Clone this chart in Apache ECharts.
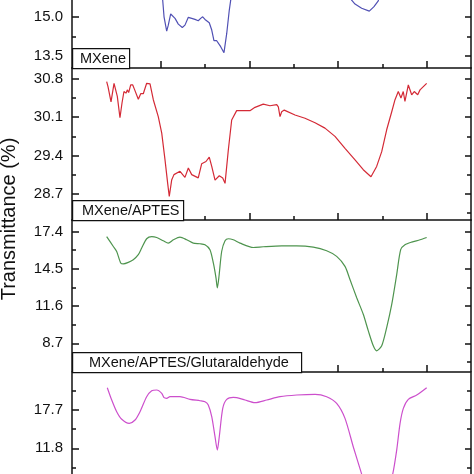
<!DOCTYPE html>
<html>
<head>
<meta charset="utf-8">
<script src="https://cdn.jsdelivr.net/npm/echarts@6/dist/echarts.min.js"></script>
<style>
  html, body { margin: 0; padding: 0; background: #fff; overflow: hidden; width: 474px; height: 474px; }
  /* the figure is taller than the window: the first and last panels are cut */
  #chart { position: absolute; left: 0; top: -84px; width: 474px; height: 620px; }
</style>
</head>
<body>
<div id="chart"></div>
<script>
// x is a position along the (unlabelled) wavenumber axis, 0..4500
const blueX = [400, 600, 800, 950, 1023, 1038, 1068, 1086, 1113, 1162, 1199, 1244, 1274, 1312, 1350, 1387, 1424, 1451, 1474, 1500, 1548, 1576, 1601, 1632, 1677, 1714, 1745, 1774, 1790, 1850, 2200, 2600, 3000, 3100, 3154, 3192, 3267, 3353, 3406, 3454, 3550, 3700, 4000];
const blueY = [18.0, 17.6, 17.8, 17.2, 15.65, 15.01, 14.46, 14.69, 15.12, 14.95, 14.73, 14.60, 14.69, 14.99, 14.95, 14.91, 14.86, 14.95, 15.01, 14.91, 14.78, 14.50, 14.09, 14.09, 13.86, 13.63, 14.37, 15.27, 15.65, 17.8, 18.2, 18.0, 17.0, 16.2, 15.65, 15.50, 15.34, 15.23, 15.40, 15.62, 17.0, 18.0, 18.4];

const redX = [391, 406, 440, 459, 474, 493, 511, 541, 564, 586, 609, 624, 639, 662, 685, 707, 748, 775, 804, 842, 880, 917, 973, 1012, 1049, 1079, 1097, 1124, 1150, 1218, 1274, 1312, 1350, 1424, 1463, 1511, 1548, 1576, 1613, 1661, 1700, 1726, 1763, 1801, 1857, 1932, 2007, 2064, 2157, 2233, 2309, 2327, 2346, 2365, 2394, 2515, 2628, 2741, 2853, 2966, 3079, 3192, 3285, 3372, 3436, 3493, 3549, 3606, 3643, 3680, 3710, 3736, 3755, 3793, 3831, 3860, 3899, 3925, 4000];
const redY = [30.75, 30.66, 30.38, 30.39, 30.72, 30.73, 30.48, 30.09, 30.36, 30.57, 30.54, 30.60, 30.55, 30.69, 30.69, 30.60, 30.43, 30.53, 30.53, 30.72, 30.71, 30.42, 30.11, 29.81, 29.32, 28.89, 28.65, 28.95, 29.05, 29.11, 29.00, 29.17, 29.05, 28.99, 29.25, 29.29, 29.37, 29.20, 28.95, 29.03, 28.99, 28.89, 29.50, 30.05, 30.22, 30.22, 30.22, 30.28, 30.34, 30.31, 30.33, 30.29, 30.11, 30.20, 30.23, 30.14, 30.08, 30.00, 29.90, 29.75, 29.53, 29.32, 29.14, 29.01, 29.20, 29.47, 29.87, 30.20, 30.42, 30.57, 30.45, 30.57, 30.39, 30.69, 30.51, 30.57, 30.51, 30.60, 30.72];

const greenX = [391, 466, 504, 549, 579, 635, 691, 748, 786, 842, 899, 955, 1030, 1086, 1143, 1218, 1294, 1368, 1444, 1500, 1556, 1594, 1624, 1639, 1658, 1688, 1726, 1763, 1819, 1895, 2045, 2157, 2365, 2534, 2721, 2872, 2985, 3079, 3135, 3211, 3285, 3342, 3398, 3436, 3493, 3549, 3606, 3662, 3707, 3755, 3831, 3925, 4000];
const greenY = [17.01, 16.24, 15.85, 14.96, 14.88, 15.00, 15.21, 15.60, 16.12, 16.84, 17.01, 16.94, 16.68, 16.50, 16.76, 16.97, 16.76, 16.50, 16.45, 16.37, 15.99, 14.96, 13.80, 13.02, 13.92, 15.85, 16.68, 16.84, 16.76, 16.50, 16.16, 16.22, 16.29, 16.29, 16.19, 15.91, 15.47, 14.69, 13.67, 12.25, 10.96, 9.67, 8.51, 8.12, 8.51, 9.93, 11.73, 14.05, 15.99, 16.37, 16.58, 16.76, 16.94];

const pinkX = [398, 448, 504, 561, 646, 711, 767, 842, 899, 955, 1012, 1038, 1068, 1105, 1218, 1331, 1444, 1500, 1537, 1576, 1613, 1639, 1661, 1700, 1745, 1819, 1857, 1951, 2064, 2196, 2346, 2534, 2741, 2872, 2985, 3079, 3172, 3267, 3323, 3383, 3440, 3496, 3564, 3617, 3662, 3700, 3737, 3793, 3888, 4000];
const pinkY = [21.14, 19.24, 17.44, 16.27, 15.65, 16.16, 17.44, 19.75, 20.67, 20.78, 20.27, 19.60, 19.50, 19.75, 19.75, 19.35, 19.13, 18.98, 18.47, 16.67, 13.59, 11.54, 13.59, 17.96, 19.35, 19.66, 19.60, 19.24, 18.83, 19.24, 19.75, 20.01, 20.12, 19.75, 18.73, 16.42, 12.05, 7.84, 5.38, 3.07, 1.99, 3.07, 5.38, 7.84, 11.54, 15.65, 17.96, 19.35, 20.01, 21.14];

// y ranges and tick values per panel
const yMin = [13.04, 28.22, 6.47, 0];
const yMax = [18.89, 31.0, 18.3, 23.4];
const majorTicks = [[13.5, 15.0, 16.5, 18.0], [28.7, 29.4, 30.1, 30.8], [8.7, 11.6, 14.5, 17.4], [0, 5.9, 11.8, 17.7]];
const minorTicks = [[14.25, 15.75, 17.25], [28.35, 29.05, 29.75, 30.45], [7.25, 10.15, 13.05, 15.95], [2.95, 8.85, 14.75, 20.65]];
const xMajor = [1000, 2000, 3000, 4000];
const xMinor = [500, 1500, 2500, 3500];

const names = ['MXene', 'MXene/APTES', 'MXene/APTES/Glutaraldehyde', ''];
const colors = ['#5050b4', '#d42a36', '#4e944e', '#cc4fcc'];

// container is shifted up by 84px, so these are container coordinates
const shift = 84;
const panelTop = [0, 152, 304, 457];
const panelH = 152;
const left = 72, right = 3;

let chart = echarts.init(document.getElementById('chart'));

let grids = [], xAxes = [], yAxes = [], series = [], graphics = [];
const lineStyle = { color: '#111', width: 1.5 };
const font = 'Liberation Sans, Arial, sans-serif';
const xs = [blueX, redX, greenX, pinkX];
const ys = [blueY, redY, greenY, pinkY];

for (let i = 0; i < 4; i++) {
    grids.push({ left: left, right: right, top: panelTop[i], height: panelH });
    // major / minor x ticks
    xAxes.push({
        type: 'value', gridIndex: i, min: 0, max: 4500, position: 'bottom',
        axisLine: { show: true, onZero: false, lineStyle: lineStyle },
        axisTick: { inside: true, length: 7, lineStyle: lineStyle, customValues: xMajor },
        axisLabel: { show: false }, splitLine: { show: false }
    });
    xAxes.push({
        type: 'value', gridIndex: i, min: 0, max: 4500, position: 'bottom',
        axisLine: { show: false, onZero: false },
        axisTick: { inside: true, length: 4, lineStyle: lineStyle, customValues: xMinor },
        axisLabel: { show: false }, splitLine: { show: false }
    });
    // left axis with labels, left minor, right major, right minor
    yAxes.push({
        type: 'value', gridIndex: i, min: yMin[i], max: yMax[i], position: 'left',
        axisLine: { show: true, onZero: false, lineStyle: lineStyle },
        axisTick: { inside: true, length: 7, lineStyle: lineStyle, customValues: majorTicks[i] },
        axisLabel: {
            customValues: majorTicks[i], margin: 9, color: '#111',
            fontSize: 15, fontFamily: font,
            formatter: v => Number(v).toFixed(1)
        },
        splitLine: { show: false }
    });
    yAxes.push({
        type: 'value', gridIndex: i, min: yMin[i], max: yMax[i], position: 'left',
        axisLine: { show: false, onZero: false },
        axisTick: { inside: true, length: 4, lineStyle: lineStyle, customValues: minorTicks[i] },
        axisLabel: { show: false }, splitLine: { show: false }
    });
    yAxes.push({
        type: 'value', gridIndex: i, min: yMin[i], max: yMax[i], position: 'right',
        axisLine: { show: true, onZero: false, lineStyle: lineStyle },
        axisTick: { inside: true, length: 6, lineStyle: lineStyle, customValues: majorTicks[i] },
        axisLabel: { show: false }, splitLine: { show: false }
    });
    yAxes.push({
        type: 'value', gridIndex: i, min: yMin[i], max: yMax[i], position: 'right',
        axisLine: { show: false, onZero: false },
        axisTick: { inside: true, length: 4, lineStyle: lineStyle, customValues: minorTicks[i] },
        axisLabel: { show: false }, splitLine: { show: false }
    });

    series.push({
        type: 'line', xAxisIndex: i * 2, yAxisIndex: i * 4,
        data: xs[i].map((x, k) => [x, ys[i][k]]),
        showSymbol: false, smooth: i >= 2 ? 0.25 : 0,
        lineStyle: { color: colors[i], width: 1.2 },
        clip: true
    });

    if (names[i]) {
        const boxW = [57, 111, 229][i];
        const padL = [8, 10, 17][i];
        const by = panelTop[i] + panelH - 20;
        graphics.push({
            type: 'rect', left: left, top: by, z: 100,
            shape: { width: boxW, height: 20 },
            style: { fill: '#fff', stroke: '#111', lineWidth: 1.2 }
        });
        graphics.push({
            type: 'text', x: left + padL, y: by + 10.5, z: 101,
            style: { text: names[i], fontSize: 14.5, fontFamily: font, fill: '#111', verticalAlign: 'middle' }
        });
    }
}

// y axis title
graphics.push({
    type: 'text', x: 9, y: 219 + shift, rotation: Math.PI / 2, z: 100,
    style: { text: 'Transmittance (%)', fontSize: 20, fontFamily: font, fill: '#111', align: 'center', verticalAlign: 'middle' }
});

chart.setOption({
    animation: false,
    backgroundColor: '#fff',
    grid: grids,
    xAxis: xAxes,
    yAxis: yAxes,
    series: series,
    graphic: graphics
});
</script>
</body>
</html>
